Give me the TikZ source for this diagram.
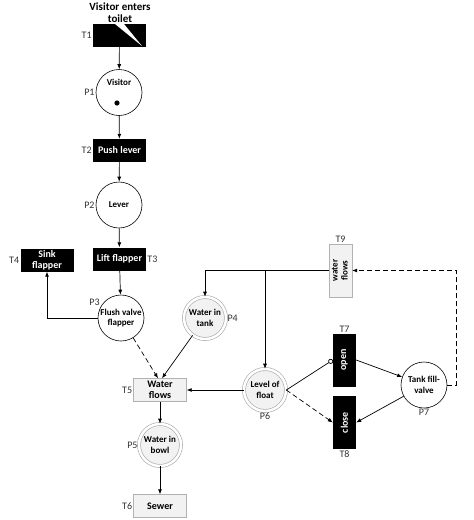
\documentclass[tikz,border=0pt]{standalone}
\usepackage{fontspec}
\setmainfont{Carlito}
\usepackage{graphicx}
\usetikzlibrary{arrows.meta}

\tikzset{
    arc/.style={-{Latex[length=5pt,width=4pt]}, line width=0.7pt},
    dsh/.style={dash pattern=on 5pt off 3pt},
    place/.style={circle, draw, line width=0.6pt, minimum size=46pt, inner sep=0pt, align=center, font=\fontsize{9}{10.5}\selectfont\bfseries},
    dplace/.style={place, minimum size=42pt, draw=gray!70, double=white, double distance=2.5pt, fill=gray!10},
    blk/.style={rectangle, fill=black, text=white, minimum width=53pt, minimum height=23pt, inner sep=1pt, align=center, font=\fontsize{10}{11}\selectfont\bfseries},
    lgt/.style={blk, fill=gray!10, draw=gray!60, text=black},
    vblk/.style={blk, minimum width=23pt, minimum height=53pt, font=\fontsize{10}{11}\selectfont\bfseries},
    vlgt/.style={lgt, minimum width=23pt, minimum height=53pt, font=\fontsize{9}{10}\selectfont\bfseries},
    lab/.style={text=black!80, font=\fontsize{10}{12}\selectfont, inner sep=1pt},
}

\begin{document}
\begin{tikzpicture}[x=1pt, y=-1pt]
    \useasboundingbox (0,0) rectangle (474,520);

    % Transitions
    \node[blk, label={[lab]left:T1}] (T1) at (119.5,35.5) {};
    \fill[white] (115,24) -- (124,24) -- (142,46) -- cycle;
    \node[font=\fontsize{11}{12}\selectfont\bfseries, align=center] (t1title) at (120,13) {Visitor enters\\toilet};
    \node[blk, label={[lab]left:T2}] (T2) at (119.5,150.5) {Push lever};
    \node[blk, label={[lab]right:T3}] (T3) at (119.5,259) {Lift flapper};
    \node[blk, label={[lab]left:T4}] (T4) at (47,260) {Sink\\flapper};
    \node[lgt, label={[lab]left:T5}] (T5) at (160,390) {Water\\flows};
    \node[lgt, label={[lab]left:T6}] (T6) at (160,506) {Sewer};
    \node[vblk, label={[lab]above:T7}] (T7) at (344.5,360) {\rotatebox{90}{open}};
    \node[vblk, label={[lab]below:T8}] (T8) at (344.5,422.5) {\rotatebox{90}{close}};
    \node[vlgt, label={[lab]above:T9}] (T9) at (340.5,270.5) {\rotatebox{90}{\begin{tabular}{@{}c@{}}water\\flows\end{tabular}}};

    % Places
    \node[place, label={[lab]left:P1}] (P1) at (119,92.5) {Visitor\\[9pt]};
    \fill (117,103) circle (2.6);
    \node[place, label={[lab]left:P2}] (P2) at (119,205) {Lever};
    \node[place, label={[lab]150:P3}] (P3) at (121,318) {Flush valve\\flapper};
    \node[dplace, label={[lab]right:P4}] (P4) at (205,318) {Water in\\tank};
    \node[dplace, label={[lab]left:P5}] (P5) at (160,445) {Water in\\bowl};
    \node[dplace, label={[lab]below:P6}] (P6) at (265,390) {Level of\\float};
    \node[place, label={[lab]below:P7}] (P7) at (424,385) {Tank fill-\\valve};

    % Arcs
    \draw[arc] (T1) -- (P1);
    \draw[arc] (P1) -- (T2);
    \draw[arc] (T2) -- (P2);
    \draw[arc] (P2) -- (T3);
    \draw[arc] (T3) -- (P3);
    \draw[arc] (P3.west) -| (T4.south);
    \draw[arc, dsh] (P3) -- ([xshift=-2pt]T5.north);
    \draw[arc] (P4) -- ([xshift=2pt]T5.north);
    \draw[arc] (P6.west) -- (T5.east);
    \draw[arc] (T5) -- (P5);
    \draw[arc] (P5) -- (T6);
    \draw[arc] (T9.west) -| (P4.north);
    \draw[arc] (T9.west) -| (P6.north);
    \draw[line width=0.7pt, -{Circle[open, length=5pt]}] (P6.east) -- (T7.west);
    \draw[arc, dsh] (P6.east) -- (T8.west);
    \draw[arc] (T7.east) -- (P7);
    \draw[arc] (P7) -- (T8.east);
    \draw[arc, dsh] (P7.east) -- ++(9,0) |- (T9.east);
\end{tikzpicture}
\end{document}
